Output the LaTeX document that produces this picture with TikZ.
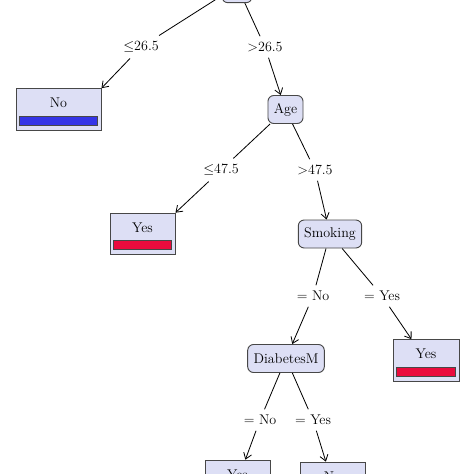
\documentclass[tikz,border=0pt]{standalone}
\usepackage{amsmath,amssymb}
\usepackage{tikz}
\usepackage{xcolor}
\usetikzlibrary{arrows.meta}
\definecolor{box}{HTML}{DDDFF5}
\definecolor{edge}{HTML}{474747}
\definecolor{nocol}{HTML}{3434E6}
\definecolor{yescol}{HTML}{EA0B3D}

\tikzset{
  split/.style={draw=edge,fill=box,rounded corners=5pt,line width=0.8pt,minimum height=0.84cm,inner xsep=5pt,font=\fontsize{12}{14}\selectfont},
  leafbox/.style={draw=edge,fill=box,line width=0.8pt,minimum height=1.25cm},
  cond/.style={font=\fontsize{12}{14}\selectfont,inner sep=2pt,outer sep=3pt},
  bar/.style={draw=edge,line width=0.5pt},
  link/.style={draw=black,line width=0.7pt},
  arr/.style={link,-{Straight Barb[length=5pt,width=7pt]}}
}

% leaf: name, position, width, class, bar colour
\newcommand{\leafnode}[5]{%
  \node[leafbox,minimum width=#3] (#1) at (#2) {};
  \node[cond,outer sep=0pt] (#1txt) at ([shift={(0,15)}]#1.north) {#4};
  \filldraw[bar,fill=#5] ([shift={(4,28)}]#1.north west) rectangle ([shift={(-4,37)}]#1.north east);
}

\begin{document}
\begin{tikzpicture}[x=0.03cm,y=-0.03cm]
\useasboundingbox (0,0) rectangle (474,474);
\clip (0,0) rectangle (474,474);

% splits
\node[split,minimum width=0.9cm,minimum height=1cm] (root) at (237,-14) {};
\node[split] (age) at (285.5,109.5) {Age};
\node[split] (smoking) at (330,234) {Smoking};
\node[split] (diab) at (286,358.5) {DiabetesM};

% leaves
\leafnode{no1}{58.5,109.5}{2.55cm}{No}{nocol}
\leafnode{yes1}{142.5,234}{1.95cm}{Yes}{yescol}
\leafnode{yes2}{426,360.5}{1.98cm}{Yes}{yescol}
\leafnode{yes3}{237.5,481}{1.95cm}{Yes}{yescol}
\leafnode{no3}{332.5,483}{1.95cm}{No}{nocol}

% conditions
\node[cond] (c1) at (141,47) {$\leq$26.5};
\node[cond] (c2) at (265,47) {$>$26.5};
\node[cond] (c3) at (221,170) {$\leq$47.5};
\node[cond] (c4) at (315,170) {$>$47.5};
\node[cond] (c5) at (313,296) {= No};
\node[cond] (c6) at (382,296) {= Yes};
\node[cond] (c7) at (260,420) {= No};
\node[cond] (c8) at (313,420) {= Yes};

% edges
\draw[link] (root) -- (c1);
\draw[arr] (c1) -- (no1.north east);
\draw[link] (root) -- (c2);
\draw[arr] (c2) -- (age);
\draw[link] (age) -- (c3);
\draw[arr] (c3) -- (yes1.north east);
\draw[link] (age) -- (c4);
\draw[arr] (c4) -- (smoking);
\draw[link] (smoking) -- (c5);
\draw[arr] (c5) -- (diab);
\draw[link] (smoking) -- (c6);
\draw[arr] (c6) -- (yes2);
\draw[link] (diab) -- (c7);
\draw[arr] (c7) -- (yes3);
\draw[link] (diab) -- (c8);
\draw[arr] (c8) -- (no3);
\end{tikzpicture}
\end{document}
